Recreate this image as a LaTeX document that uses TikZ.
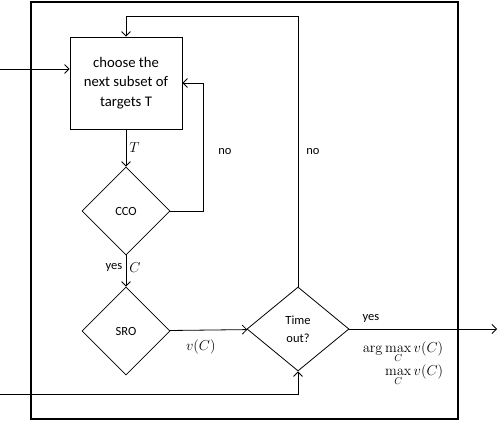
\documentclass[tikz,border=0pt]{standalone}
\usepackage{amsmath}
\usepackage[no-math]{fontspec}
\setmainfont{Carlito}
\usetikzlibrary{shapes.geometric, arrows.meta}

\begin{document}
\begin{tikzpicture}[x=1pt, y=-1pt, line width=0.8pt,
        flow/.style = {-{Straight Barb[length=4.5pt, width=9pt]}},
        decide/.style = {draw, diamond, inner sep=0pt, font=\fontsize{12.5}{18}\selectfont, align=center},
        lbl/.style = {font=\fontsize{12.5}{14}\selectfont},
        mth/.style = {font=\fontsize{14}{16}\selectfont, inner sep=1pt}]
        \useasboundingbox (0, 0) rectangle (502, 423);
        \draw [line width=1.6pt] (31, 2) rectangle (458, 419);
        \node [draw, minimum width=112, minimum height=92, align=center, font=\fontsize{14.7}{19.5}\selectfont] (choose) at (126, 83) {choose the\\next subset of\\targets T};
        \node [decide, minimum width=88, minimum height=88] (cco) at (126, 211) {CCO};
        \node [decide, minimum width=88, minimum height=88] (sro) at (126, 331) {SRO};
        \node [decide, minimum width=102, minimum height=84] (timeout) at (298, 329) {Time\\out?};
        \coordinate (top) at (0, 16);
        \coordinate (back) at (203, 83);
        \coordinate (in1) at (0, 69);
        \coordinate (in2) at (0, 394);
        \coordinate (out) at (497, 329);
        % arrows
        \draw [flow] (in1) -- (choose.west |- in1);
        \draw [flow] (choose) -- (cco) node [pos=0.5, right=2pt, mth] {\(T\)};
        \draw [flow] (cco.east) -| (back) -- (choose.east);
        \draw [flow] (cco) -- (sro) node [pos=0.4, left, lbl] {yes} node [pos=0.4, right=2pt, mth] {\(C\)};
        \draw [flow] (sro) -- (timeout) node [pos=0.4, below=8pt, mth] {\(v(C)\)};
        \draw [flow] (timeout.north) -- (timeout.north |- top) -| (choose.north);
        \draw [flow] (in2) -| (timeout.south);
        \draw [flow] (timeout.east) -- (out);
        % labels
        \node [lbl] (no1) at (225, 152) {no};
        \node [lbl] (no2) at (313, 152) {no};
        \node [lbl] (yes) at (371, 318) {yes};
        \node [mth, align=right, font=\fontsize{14}{23}\selectfont] (result) at (403, 364) {\(\arg\max\limits_C v(C)\)\\\(\max\limits_C v(C)\)};
\end{tikzpicture}
\end{document}
